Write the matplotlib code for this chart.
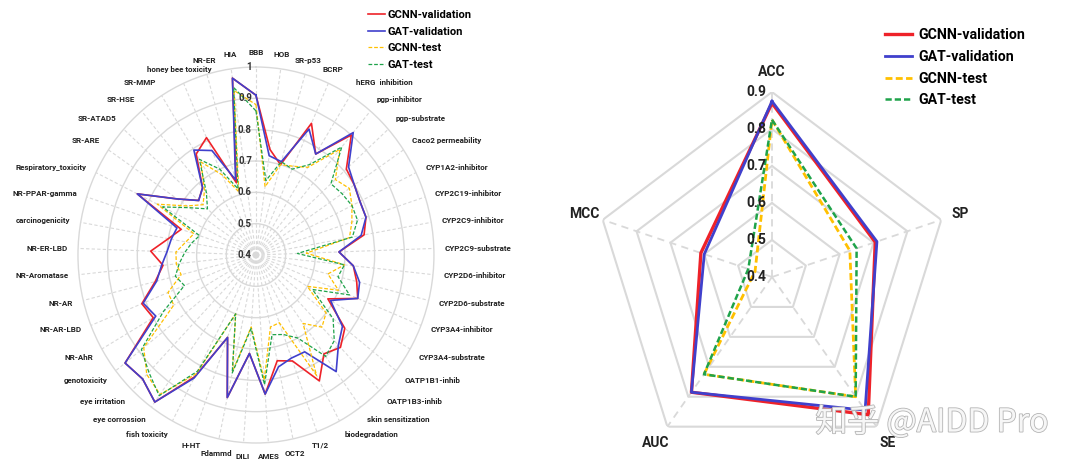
import numpy as np
import matplotlib.pyplot as plt
import matplotlib.patheffects as pe

# ---- left chart: ADMET endpoints (clockwise from top) ----
admet = ["BBB", "HOB", "SR-p53", "BCRP", "hERG  inhibition", "pgp-inhibitor", "pgp-substrate",
         "Caco2 permeability", "CYP1A2-inhibitor", "CYP2C19-inhibitor", "CYP2C9-inhibitor",
         "CYP2C9-substrate", "CYP2D6-inhibitor", "CYP2D6-substrate", "CYP3A4-inhibitor",
         "CYP3A4-substrate", "OATP1B1-inhib", "OATP1B3-inhib", "skin sensitization",
         "biodegradation", "T1/2", "OCT2", "AMES", "DILI", "Fdammd", "H-HT", "fish toxicity",
         "eye corrossion", "eye irritation", "genotoxicity", "NR-AhR", "NR-AR-LBD", "NR-AR",
         "NR-Aromatase", "NR-ER-LBD", "carcinogenicity", "NR-PPAR-gamma", "Respiratory_toxicity",
         "SR-ARE", "SR-ATAD5", "SR-HSE", "SR-MMP", "honey bee toxicity", "NR-ER", "HIA"]

gcnn_val = [0.91, 0.74, 0.70, 0.86, 0.78, 0.90, 0.81, 0.80, 0.79, 0.79, 0.77, 0.68, 0.73, 0.75, 0.77,
            0.68, 0.78, 0.81, 0.79, 0.855, 0.76, 0.745, 0.845, 0.715, 0.865, 0.68, 0.84, 0.98, 0.95,
            0.96, 0.80, 0.815, 0.75, 0.715, 0.755, 0.70, 0.665, 0.845, 0.72, 0.66, 0.68, 0.78, 0.81,
            0.64, 0.97]
gat_val = [0.91, 0.72, 0.71, 0.84, 0.78, 0.91, 0.82, 0.80, 0.79, 0.79, 0.76, 0.68, 0.73, 0.76, 0.77,
           0.69, 0.77, 0.80, 0.86, 0.75, 0.75, 0.765, 0.845, 0.715, 0.865, 0.68, 0.845, 0.98, 0.95,
           0.96, 0.79, 0.81, 0.745, 0.72, 0.70, 0.69, 0.68, 0.845, 0.72, 0.66, 0.68, 0.795, 0.765,
           0.65, 0.97]
gcnn_test = [0.88, 0.62, 0.70, 0.71, 0.73, 0.84, 0.76, 0.78, 0.76, 0.74, 0.72, 0.57, 0.70, 0.65, 0.70,
             0.60, 0.70, 0.72, 0.67, 0.835, 0.63, 0.635, 0.80, 0.63, 0.78, 0.60, 0.83, 0.95, 0.93,
             0.88, 0.72, 0.72, 0.66, 0.67, 0.67, 0.64, 0.62, 0.77, 0.68, 0.64, 0.67, 0.75, 0.68,
             0.61, 0.93]
gat_test = [0.86, 0.64, 0.71, 0.70, 0.74, 0.85, 0.74, 0.75, 0.76, 0.76, 0.73, 0.54, 0.70, 0.685, 0.74,
            0.62, 0.73, 0.78, 0.80, 0.70, 0.67, 0.66, 0.815, 0.635, 0.785, 0.60, 0.82, 0.955, 0.92,
            0.89, 0.76, 0.66, 0.68, 0.66, 0.64, 0.62, 0.60, 0.75, 0.67, 0.62, 0.66, 0.76, 0.70,
            0.62, 0.94]
left_ticks = [0.4, 0.5, 0.6, 0.7, 0.8, 0.9, 1.0]
left_tick_labels = ["0.4", "0.5", "0.6", "0.7", "0.8", "0.9", "1"]

# ---- right chart: overall metrics ----
metrics = ["ACC", "SP", "SE", "AUC", "MCC"]
gcnn_val_m = [0.87, 0.705, 0.86, 0.785, 0.61]
gat_val_m = [0.875, 0.71, 0.845, 0.785, 0.60]
gcnn_test_m = [0.825, 0.63, 0.80, 0.725, 0.45]
gat_test_m = [0.825, 0.65, 0.80, 0.725, 0.47]
right_ticks = [0.4, 0.5, 0.6, 0.7, 0.8, 0.9]

series_names = ["GCNN-validation", "GAT-validation", "GCNN-test", "GAT-test"]
RED, BLUE, YELLOW, GREEN = "#ee2229", "#4040cc", "#ffc000", "#1fa34a"
GRID = "#d9d9d9"
FONT = "Roboto"

fig = plt.figure(figsize=(10.8, 4.67), dpi=100)
fig.patch.set_facecolor("white")


def closed(v):
    return list(v) + [v[0]]


# ================= left radar =================
axL = fig.add_axes([0.0722, 0.0514, 0.3296, 0.8051], projection="polar")
axL.set_aspect("auto")
axL.set_theta_zero_location("N")
axL.set_theta_direction(-1)
n = len(admet)
ang = np.deg2rad(np.arange(n) * 360.0 / n)
angc = closed(ang)

axL.set_ylim(0.4, 1.0)
axL.set_xticks(ang)
axL.set_xticklabels([])
axL.set_yticks(left_ticks[1:-1])
axL.set_yticklabels([])
axL.tick_params(length=0)
axL.xaxis.grid(True, color=GRID, linestyle=(0, (3, 2)), linewidth=0.8)
axL.yaxis.grid(True, color=GRID, linestyle="-", linewidth=1.0)
axL.spines["polar"].set_color(GRID)
axL.spines["polar"].set_linewidth(1.0)

hl = []
hl += axL.plot(angc, closed(gcnn_val), color=RED, lw=1.2, label=series_names[0])
hl += axL.plot(angc, closed(gat_val), color=BLUE, lw=1.2, label=series_names[1])
hl += axL.plot(angc, closed(gcnn_test), color=YELLOW, lw=0.9, ls=(0, (3, 1.5)), label=series_names[2])
hl += axL.plot(angc, closed(gat_test), color=GREEN, lw=0.9, ls=(0, (3, 1.5)), label=series_names[3])

for v, t in zip(left_ticks, left_tick_labels):
    axL.annotate(t, xy=(0, v), xytext=(-4, 0), textcoords="offset pixels", ha="right", va="center",
                 fontsize=7, fontweight="bold", color="#333333", family=FONT)

for a, name in zip(ang, admet):
    s, c = np.sin(a), np.cos(a)
    ha = "left" if s > 0.45 else ("right" if s < -0.45 else "center")
    va = "bottom" if c > 0.45 else ("top" if c < -0.45 else "center")
    axL.text(a, 1.035, name, ha=ha, va=va, fontsize=5.8, fontweight="bold", color="#222222", family=FONT)

fig.legend(handles=hl, loc="upper left", bbox_to_anchor=(368 / 1080, 1 - 10 / 467), frameon=False,
           prop={"family": FONT, "weight": "bold", "size": 8}, handlelength=1.55, handletextpad=0.25,
           labelspacing=0.6, borderpad=0, borderaxespad=0)

# ================= right radar =================
axR = fig.add_axes([0.550, 0.0107, 0.3296, 0.7923], projection="polar")
axR.set_aspect("auto")
axR.set_theta_zero_location("N")
axR.set_theta_direction(-1)
m = len(metrics)
angm = np.deg2rad(np.arange(m) * 360.0 / m)
angmc = closed(angm)
axR.set_ylim(0.4, 0.9)
axR.grid(False)
axR.set_xticks([])
axR.set_yticks([])
axR.spines["polar"].set_visible(False)

for v in right_ticks[1:]:
    axR.plot(angmc, [v] * (m + 1), color=GRID, lw=1.5, zorder=1)
for a in angm:
    axR.plot([a, a], [0.4, 0.9], color=GRID, lw=1.3, ls=(0, (4, 3)), zorder=1)

hr = []
hr += axR.plot(angmc, closed(gcnn_val_m), color=RED, lw=2.4, label=series_names[0], zorder=3)
hr += axR.plot(angmc, closed(gat_val_m), color=BLUE, lw=2.0, label=series_names[1], zorder=4)
hr += axR.plot(angmc, closed(gcnn_test_m), color=YELLOW, lw=2.0, ls=(0, (2.5, 1.2)), label=series_names[2], zorder=2)
hr += axR.plot(angmc, closed(gat_test_m), color=GREEN, lw=1.8, ls=(0, (2.5, 1.2)), label=series_names[3], zorder=2.5)

for v in right_ticks:
    axR.annotate(f"{v:.1f}", xy=(0, v), xytext=(-6, 0), textcoords="offset pixels", ha="right",
                 va="center", fontsize=10, fontweight="bold", color="#222222", family=FONT, zorder=5)

for a, name in zip(angm, metrics):
    axR.text(a, 0.955, name, ha="center", va="center", fontsize=10, fontweight="bold",
             color="#222222", family=FONT)

fig.legend(handles=hr, loc="upper left", bbox_to_anchor=(885 / 1080, 1 - 28 / 467), frameon=False,
           prop={"family": FONT, "weight": "bold", "size": 10.2}, handlelength=1.9, handletextpad=0.45,
           labelspacing=0.55, borderpad=0, borderaxespad=0)

# watermark
fig.text(0.755, 0.095, "知乎 @AIDD Pro", fontsize=23, color="#f6f6f6",
         family=["Noto Sans CJK SC", "DejaVu Sans"], ha="left", va="center",
         path_effects=[pe.withStroke(linewidth=1.2, foreground="#b5b5b5")])

fig.savefig("out.png", dpi=100)
